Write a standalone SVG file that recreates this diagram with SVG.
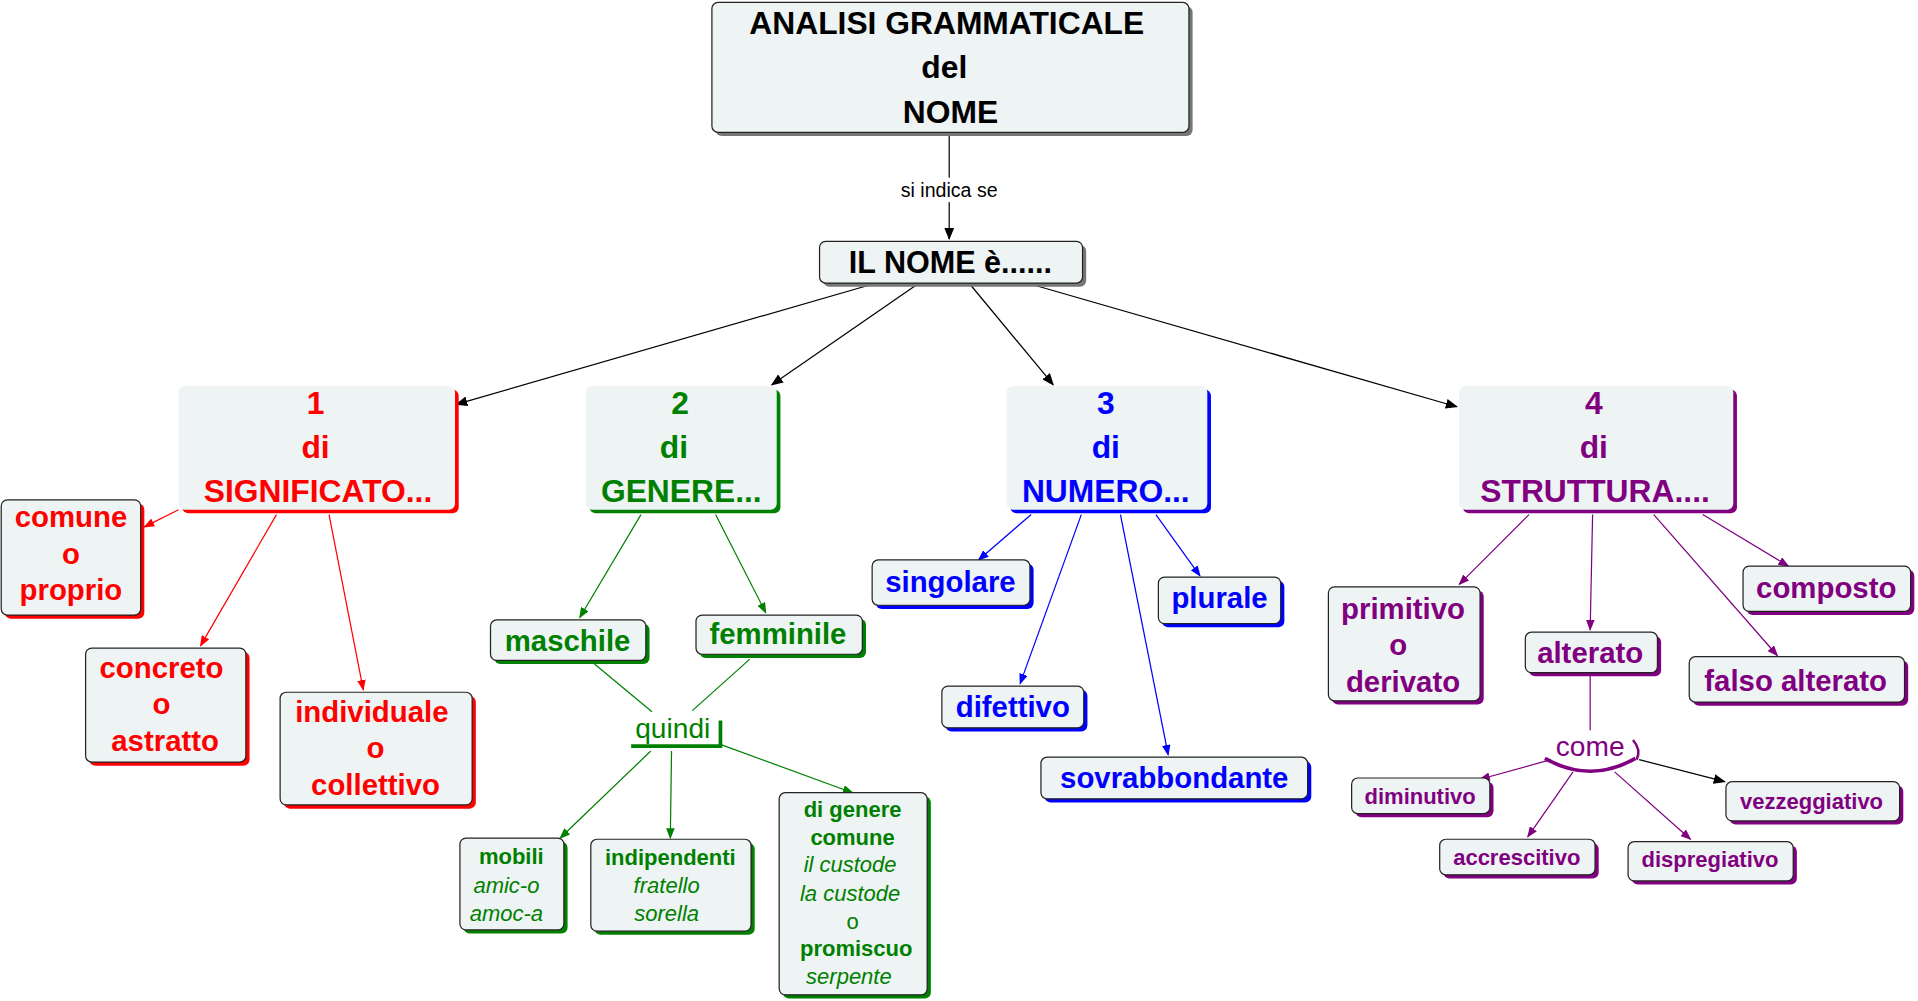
<svg xmlns="http://www.w3.org/2000/svg" width="1918" height="1001" viewBox="0 0 1918 1001">
<style>
text{font-family:"Liberation Sans",Arial,sans-serif;text-anchor:middle}
.b{font-weight:bold}
.i{font-style:italic}
.box{fill:#eef3f3;stroke:#222;stroke-width:1}
.r{fill:#ff0000}.g{fill:#008000}.bl{fill:#0000ff}.p{fill:#800080}.k{fill:#000}
.lr{stroke:#ff0000}.lg{stroke:#008000}.lb{stroke:#0000ff}.lp{stroke:#800080}.lk{stroke:#000;stroke-width:1.5}
#conn line,#conn path{fill:none;stroke-width:1}
</style>
<defs>
<marker id="ak" markerWidth="10" markerHeight="8" refX="9" refY="4" orient="auto" markerUnits="userSpaceOnUse"><path d="M0,0L10,4L0,8z" fill="#000"/></marker>
<marker id="ar" markerWidth="9" markerHeight="7" refX="8" refY="3.5" orient="auto" markerUnits="userSpaceOnUse"><path d="M0,0L9,3.5L0,7z" fill="#ff0000"/></marker>
<marker id="ag" markerWidth="9" markerHeight="7" refX="8" refY="3.5" orient="auto" markerUnits="userSpaceOnUse"><path d="M0,0L9,3.5L0,7z" fill="#008000"/></marker>
<marker id="ab" markerWidth="9" markerHeight="7" refX="8" refY="3.5" orient="auto" markerUnits="userSpaceOnUse"><path d="M0,0L9,3.5L0,7z" fill="#0000ff"/></marker>
<marker id="ap" markerWidth="9" markerHeight="7" refX="8" refY="3.5" orient="auto" markerUnits="userSpaceOnUse"><path d="M0,0L9,3.5L0,7z" fill="#800080"/></marker>
</defs>
<rect width="1918" height="1001" fill="#fff"/>
<g transform="scale(1.2232,1.2252)">
<g id="conn">
<line class="lk" x1="776" y1="108" x2="776" y2="195" marker-end="url(#ak)"/>
<rect x="724" y="145" width="104" height="20" fill="#fff"/>
<text x="776" y="161" font-size="16" class="k">si indica se</text>
<line class="lk" x1="713" y1="232" x2="373" y2="330" marker-end="url(#ak)"/>
<line class="lk" x1="750" y1="232" x2="631" y2="314" marker-end="url(#ak)"/>
<line class="lk" x1="793" y1="232" x2="861" y2="314" marker-end="url(#ak)"/>
<line class="lk" x1="843" y1="232" x2="1191" y2="332" marker-end="url(#ak)"/>
<line class="lr" x1="146" y1="416" x2="118" y2="430" marker-end="url(#ar)"/>
<line class="lr" x1="226" y1="420" x2="164" y2="527" marker-end="url(#ar)"/>
<line class="lr" x1="269" y1="420" x2="297" y2="563" marker-end="url(#ar)"/>
<line class="lg" x1="524" y1="420" x2="474" y2="504" marker-end="url(#ag)"/>
<line class="lg" x1="585" y1="420" x2="626" y2="500" marker-end="url(#ag)"/>
<line class="lg" x1="486" y1="542" x2="533" y2="581"/>
<line class="lg" x1="613" y1="538" x2="566" y2="580"/>
<line class="lg" x1="532" y1="613" x2="458" y2="684" marker-end="url(#ag)"/>
<line class="lg" x1="549" y1="613" x2="548" y2="684" marker-end="url(#ag)"/>
<line class="lg" x1="590" y1="608" x2="697" y2="647" marker-end="url(#ag)"/>
<line class="lb" x1="843" y1="420" x2="800" y2="457" marker-end="url(#ab)"/>
<line class="lb" x1="945" y1="420" x2="981" y2="470" marker-end="url(#ab)"/>
<line class="lb" x1="884" y1="420" x2="834" y2="558" marker-end="url(#ab)"/>
<line class="lb" x1="916" y1="420" x2="955" y2="616" marker-end="url(#ab)"/>
<line class="lp" x1="1250" y1="420" x2="1193" y2="477" marker-end="url(#ap)"/>
<line class="lp" x1="1302" y1="420" x2="1300" y2="514" marker-end="url(#ap)"/>
<line class="lp" x1="1392" y1="420" x2="1462" y2="462" marker-end="url(#ap)"/>
<line class="lp" x1="1352" y1="420" x2="1453" y2="535" marker-end="url(#ap)"/>
<line class="lp" x1="1300" y1="549" x2="1300" y2="596"/>
<line class="lp" x1="1268" y1="620" x2="1210" y2="636" marker-end="url(#ap)"/>
<line class="lk" style="stroke-width:1" x1="1340" y1="620" x2="1410" y2="638" marker-end="url(#ak)"/>
<line class="lp" x1="1286" y1="630" x2="1249" y2="683" marker-end="url(#ap)"/>
<line class="lp" x1="1320" y1="630" x2="1382" y2="685" marker-end="url(#ap)"/>
</g>

<g id="title">
<rect x="585" y="5" width="390" height="106" rx="5" fill="#777"/>
<rect class="box" x="582" y="2" width="390" height="106" rx="5"/>
<text class="b k" x="774" y="28" font-size="26">ANALISI GRAMMATICALE</text>
<text class="b k" x="772" y="64" font-size="26">del</text>
<text class="b k" x="777" y="100" font-size="26">NOME</text>
</g>
<g id="ilnome">
<rect x="673" y="200" width="215" height="34" rx="5" fill="#777"/>
<rect class="box" x="670" y="197" width="215" height="34" rx="5"/>
<text class="b k" x="777" y="223" font-size="25">IL NOME è......</text>
</g>

<g id="cat1">
<rect x="149" y="318" width="226" height="101" rx="5" class="r"/>
<rect x="146" y="315" width="226" height="101" rx="5" fill="#eef3f3"/>
<text class="b r" x="258" y="338" font-size="26">1</text>
<text class="b r" x="258" y="374" font-size="26">di</text>
<text class="b r" x="260" y="410" font-size="26">SIGNIFICATO...</text>
</g>
<g id="cat2">
<rect x="482" y="318" width="156" height="101" rx="5" class="g"/>
<rect x="479" y="315" width="156" height="101" rx="5" fill="#eef3f3"/>
<text class="b g" x="556" y="338" font-size="26">2</text>
<text class="b g" x="551" y="374" font-size="26">di</text>
<text class="b g" x="557" y="410" font-size="26">GENERE...</text>
</g>
<g id="cat3">
<rect x="826" y="318" width="164" height="101" rx="5" class="bl"/>
<rect x="823" y="315" width="164" height="101" rx="5" fill="#eef3f3"/>
<text class="b bl" x="904" y="338" font-size="26">3</text>
<text class="b bl" x="904" y="374" font-size="26">di</text>
<text class="b bl" x="904" y="410" font-size="26">NUMERO...</text>
</g>
<g id="cat4">
<rect x="1196" y="318" width="224" height="101" rx="5" class="p"/>
<rect x="1193" y="315" width="224" height="101" rx="5" fill="#eef3f3"/>
<text class="b p" x="1303" y="338" font-size="26">4</text>
<text class="b p" x="1303" y="374" font-size="26">di</text>
<text class="b p" x="1304" y="410" font-size="26">STRUTTURA....</text>
</g>

<g id="comune">
<rect x="4" y="411" width="114" height="94" rx="5" class="r"/>
<rect class="box" x="1" y="408" width="114" height="94" rx="5"/>
<text class="b r" x="58" y="430" font-size="24">comune</text>
<text class="b r" x="58" y="460" font-size="24">o</text>
<text class="b r" x="58" y="490" font-size="24">proprio</text>
</g>
<g id="concreto">
<rect x="73" y="532" width="131" height="93" rx="5" class="r"/>
<rect class="box" x="70" y="529" width="131" height="93" rx="5"/>
<text class="b r" x="132" y="553" font-size="24">concreto</text>
<text class="b r" x="132" y="583" font-size="24">o</text>
<text class="b r" x="135" y="613" font-size="24">astratto</text>
</g>
<g id="individuale">
<rect x="232" y="568" width="157" height="92" rx="5" class="r"/>
<rect class="box" x="229" y="565" width="157" height="92" rx="5"/>
<text class="b r" x="304" y="589" font-size="24">individuale</text>
<text class="b r" x="307" y="619" font-size="24">o</text>
<text class="b r" x="307" y="649" font-size="24">collettivo</text>
</g>

<g id="maschile">
<rect x="404" y="509" width="127" height="33" rx="5" class="g"/>
<rect class="box" x="401" y="506" width="127" height="33" rx="5"/>
<text class="b g" x="464" y="531" font-size="24">maschile</text>
</g>
<g id="femminile">
<rect x="572" y="505" width="136" height="32" rx="5" class="g"/>
<rect class="box" x="569" y="502" width="136" height="32" rx="5"/>
<text class="b g" x="636" y="526" font-size="24">femminile</text>
</g>
<g id="quindi">
<path d="M516,609H589V588" fill="none" stroke="#008000" stroke-width="3"/>
<text class="g" x="550" y="602" font-size="23">quindi</text>
</g>
<g id="mobili">
<rect x="379" y="687" width="85" height="75" rx="5" class="g"/>
<rect class="box" x="376" y="684" width="85" height="75" rx="5"/>
<text class="b g" x="418" y="705" font-size="18">mobili</text>
<text class="i g" x="414" y="729" font-size="18">amic-o</text>
<text class="i g" x="414" y="752" font-size="18">amoc-a</text>
</g>
<g id="indipendenti">
<rect x="486" y="688" width="131" height="75" rx="5" class="g"/>
<rect class="box" x="483" y="685" width="131" height="75" rx="5"/>
<text class="b g" x="548" y="706" font-size="18">indipendenti</text>
<text class="i g" x="545" y="729" font-size="18">fratello</text>
<text class="i g" x="545" y="752" font-size="18">sorella</text>
</g>
<g id="digenere">
<rect x="640" y="650" width="121" height="165" rx="5" class="g"/>
<rect class="box" x="637" y="647" width="121" height="165" rx="5"/>
<text class="b g" x="697" y="667" font-size="18">di genere</text>
<text class="b g" x="697" y="690" font-size="18">comune</text>
<text class="i g" x="695" y="712" font-size="18">il custode</text>
<text class="i g" x="695" y="735" font-size="18">la custode</text>
<text class="g" x="697" y="758" font-size="18">o</text>
<text class="b g" x="700" y="780" font-size="18">promiscuo</text>
<text class="i g" x="694" y="803" font-size="18">serpente</text>
</g>

<g id="singolare">
<rect x="716" y="460" width="129" height="37" rx="5" class="bl"/>
<rect class="box" x="713" y="457" width="129" height="37" rx="5"/>
<text class="b bl" x="777" y="483" font-size="24">singolare</text>
</g>
<g id="plurale">
<rect x="950" y="474" width="100" height="38" rx="5" class="bl"/>
<rect class="box" x="947" y="471" width="100" height="38" rx="5"/>
<text class="b bl" x="997" y="496" font-size="24">plurale</text>
</g>
<g id="difettivo">
<rect x="773" y="563" width="116" height="34" rx="5" class="bl"/>
<rect class="box" x="770" y="560" width="116" height="34" rx="5"/>
<text class="b bl" x="828" y="585" font-size="24">difettivo</text>
</g>
<g id="sovrabbondante">
<rect x="854" y="621" width="218" height="34" rx="5" class="bl"/>
<rect class="box" x="851" y="618" width="218" height="34" rx="5"/>
<text class="b bl" x="960" y="643" font-size="24">sovrabbondante</text>
</g>

<g id="primitivo">
<rect x="1089" y="482" width="124" height="93" rx="5" class="p"/>
<rect class="box" x="1086" y="479" width="124" height="93" rx="5"/>
<text class="b p" x="1147" y="505" font-size="24">primitivo</text>
<text class="b p" x="1143" y="535" font-size="24">o</text>
<text class="b p" x="1147" y="565" font-size="24">derivato</text>
</g>
<g id="alterato">
<rect x="1250" y="519" width="108" height="33" rx="5" class="p"/>
<rect class="box" x="1247" y="516" width="108" height="33" rx="5"/>
<text class="b p" x="1300" y="541" font-size="24">alterato</text>
</g>
<g id="composto">
<rect x="1428" y="465" width="137" height="37" rx="5" class="p"/>
<rect class="box" x="1425" y="462" width="137" height="37" rx="5"/>
<text class="b p" x="1493" y="488" font-size="24">composto</text>
</g>
<g id="falso">
<rect x="1384" y="539" width="176" height="37" rx="5" class="p"/>
<rect class="box" x="1381" y="536" width="176" height="37" rx="5"/>
<text class="b p" x="1468" y="564" font-size="24">falso alterato</text>
</g>
<g id="come">
<path d="M1263,619Q1300,640 1337,619" fill="none" stroke="#800080" stroke-width="3"/>
<path d="M1335,604Q1342,612 1338,620" fill="none" stroke="#800080" stroke-width="2"/>
<text class="p" x="1300" y="617" font-size="23">come</text>
</g>
<g id="diminutivo">
<rect x="1108" y="638" width="113" height="29" rx="5" class="p"/>
<rect class="box" x="1105" y="635" width="113" height="29" rx="5"/>
<text class="b p" x="1161" y="656" font-size="18">diminutivo</text>
</g>
<g id="vezzeggiativo">
<rect x="1414" y="641" width="142" height="32" rx="5" class="p"/>
<rect class="box" x="1411" y="638" width="142" height="32" rx="5"/>
<text class="b p" x="1481" y="660" font-size="18">vezzeggiativo</text>
</g>
<g id="accrescitivo">
<rect x="1180" y="688" width="127" height="29" rx="5" class="p"/>
<rect class="box" x="1177" y="685" width="127" height="29" rx="5"/>
<text class="b p" x="1240" y="706" font-size="18">accrescitivo</text>
</g>
<g id="dispregiativo">
<rect x="1334" y="690" width="135" height="32" rx="5" class="p"/>
<rect class="box" x="1331" y="687" width="135" height="32" rx="5"/>
<text class="b p" x="1398" y="708" font-size="18">dispregiativo</text>
</g>
</g>
</svg>
